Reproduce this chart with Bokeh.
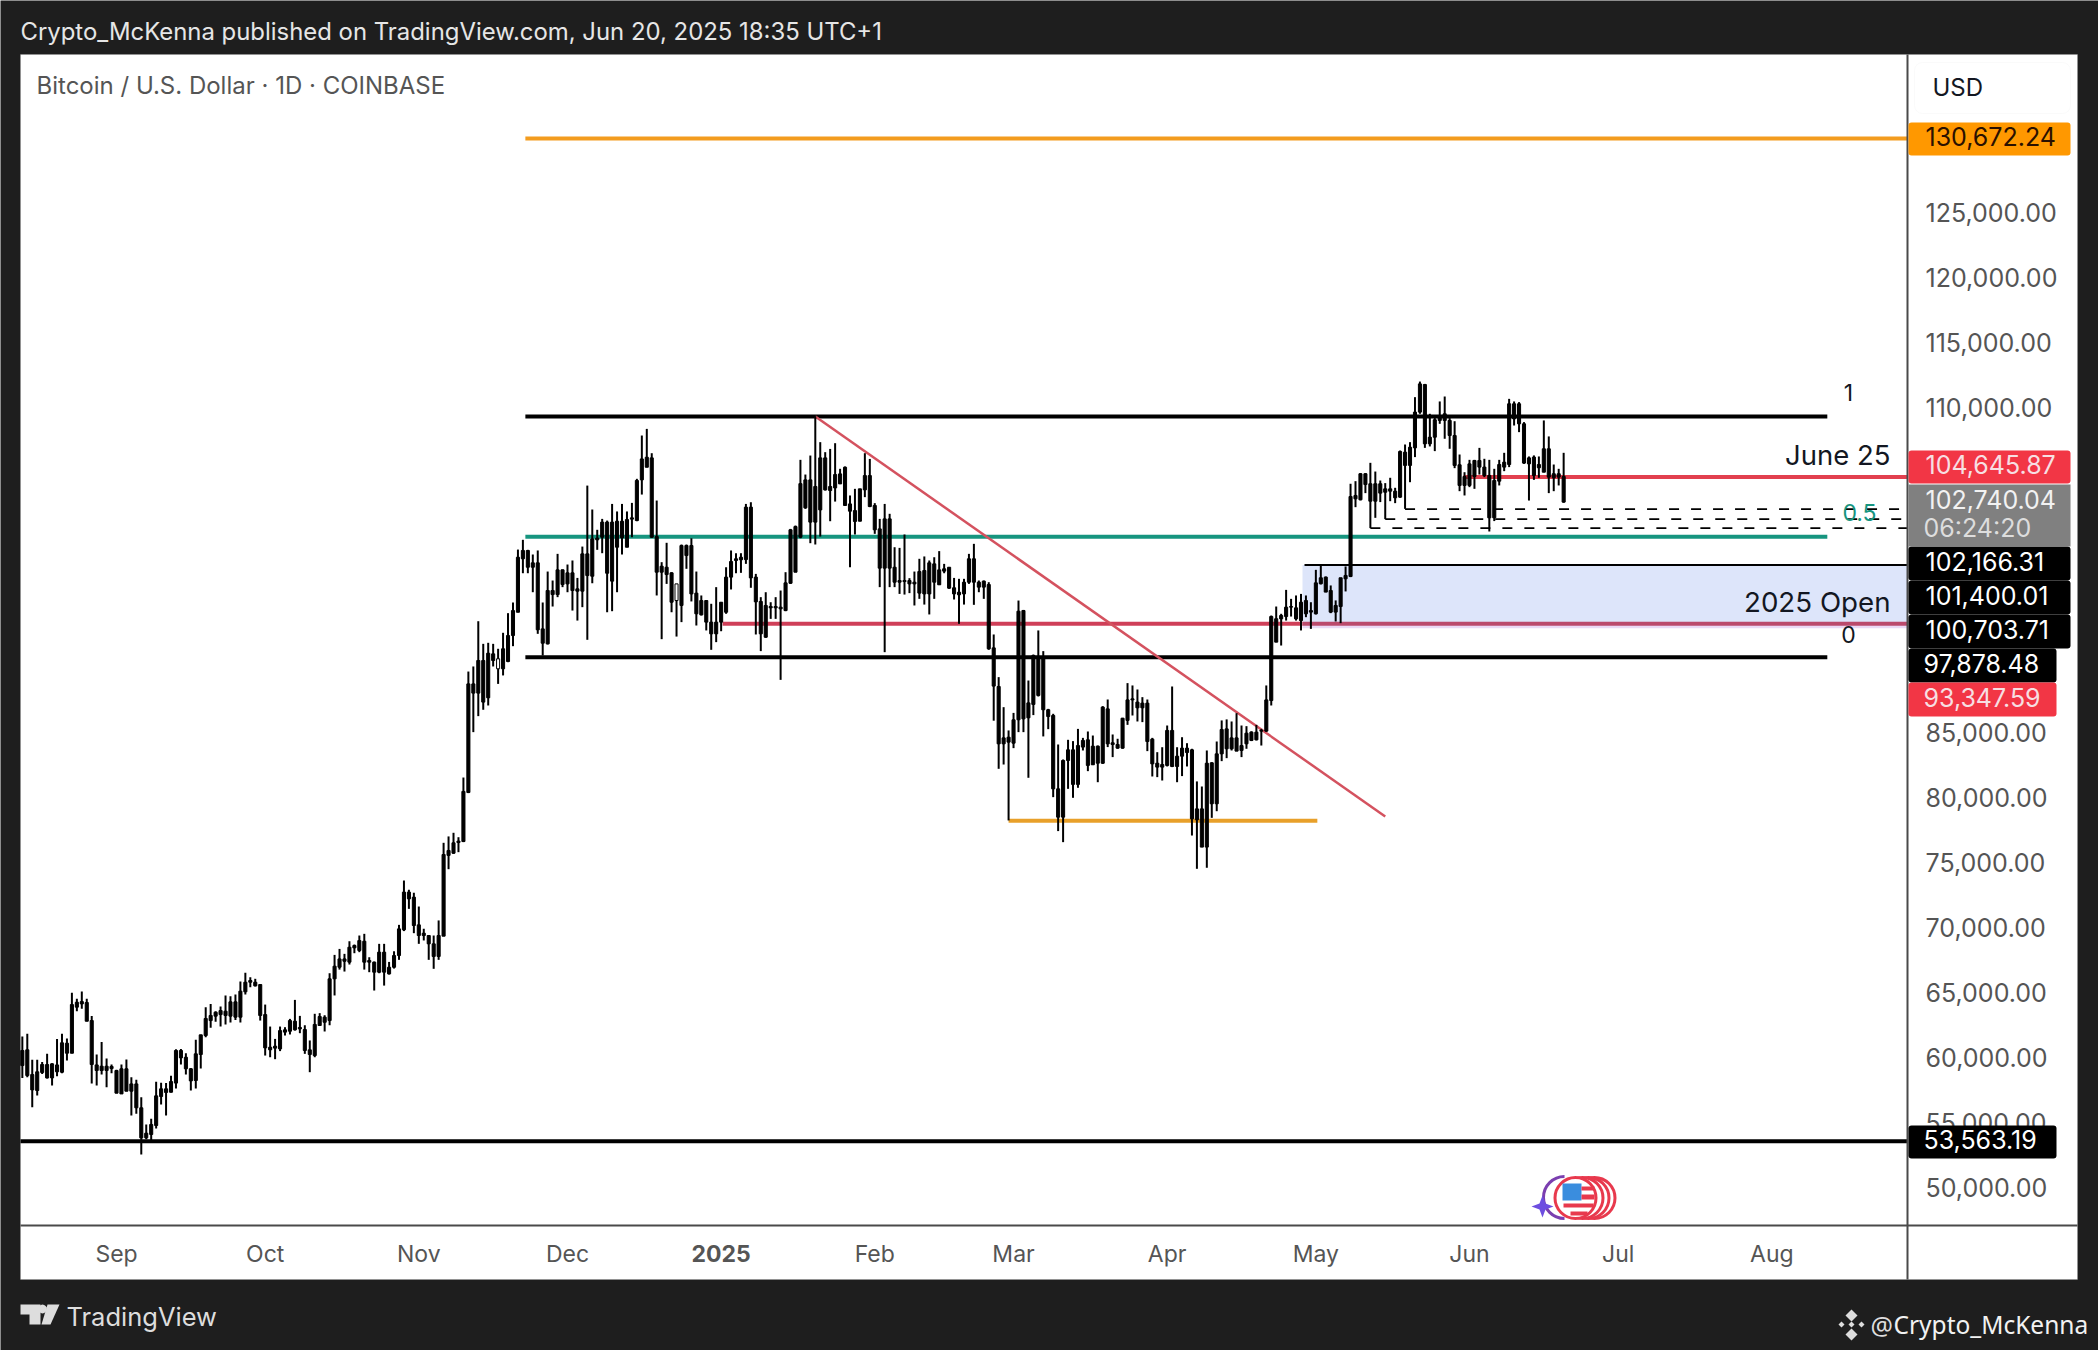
import math
from bokeh.plotting import figure
from bokeh.embed import file_html
from bokeh.resources import INLINE
from bokeh.models import (ColumnDataSource, Range1d, FixedTicker, NumeralTickFormatter,
                          BoxAnnotation, PolyAnnotation, Label)

# ---------- candle values, thousands of USD, one per day from 2024-08-13 ----------
wick_high = [
61.61,61.82,59.82,59.82,59.66,60.28,59.56,61.43,61.82,61.46,
64.97,64.51,65.07,64.51,63.2,60.23,61.2,59.92,59.46,59.05,
59.46,59.84,58.49,58.28,56.95,54.85,55.28,58.13,58.05,58.03,
58.59,60.64,60.66,60.33,59.2,61.36,61.74,63.87,64.12,63.56,
63.92,64.77,64.71,64.84,65.84,66.51,66.18,66.05,65.61,64.07,
62.38,61.43,62.38,62.33,62.97,64.43,63.2,62.48,61.31,63.36,
63.41,63.25,66.48,67.89,68.35,67.97,68.94,68.69,69.38,69.51,
67.71,67.38,68.74,68.74,67.35,68.17,70.2,73.61,72.9,72.67,
71.61,69.9,69.38,69.38,70.54,76.51,77.0,77.28,76.94,81.53,
89.68,90.07,93.55,91.81,91.89,91.81,91.43,92.66,94.17,94.99,
99.06,99.81,99.04,98.68,98.99,94.99,97.37,96.68,98.73,97.53,
97.91,98.22,96.88,99.29,103.98,102.14,100.58,101.42,101.29,102.57,
101.99,102.57,101.99,102.65,104.5,107.83,108.34,106.47,102.83,98.09,
99.58,97.32,96.42,99.45,99.45,99.93,97.37,95.53,95.14,94.89,
96.17,95.01,97.7,98.99,98.78,98.78,102.57,102.7,97.19,95.4,
95.78,95.01,95.4,95.91,97.32,100.65,100.91,105.96,104.83,106.29,
109.32,107.32,106.55,106.8,107.24,105.27,105.45,103.22,103.73,103.73,
106.47,106.03,102.63,101.42,102.57,101.81,99.24,99.19,100.22,96.86,
97.37,98.35,98.53,98.22,98.47,98.94,97.96,97.7,96.88,96.81,
96.81,98.73,99.5,96.68,96.68,96.55,92.53,89.25,86.94,85.15,
86.5,95.14,94.42,88.99,90.99,92.84,91.25,86.81,86.43,84.07,
82.92,84.43,84.33,85.27,84.58,85.07,84.76,83.99,87.02,87.53,
84.84,84.51,86.12,88.79,88.61,88.3,87.71,87.53,84.58,83.48,
83.86,85.53,88.53,83.86,84.63,84.17,83.74,81.23,80.84,83.61,
82.71,84.3,85.92,86.0,85.84,86.48,85.53,85.48,85.09,85.58,
85.27,88.61,93.99,94.68,94.12,95.96,95.27,95.53,95.65,95.53,
95.01,97.5,97.91,96.99,96.3,95.15,96.89,97.76,104.12,104.32,
104.94,104.94,105.73,105.06,104.37,104.17,104.58,103.81,106.68,107.14,
107.32,110.78,111.98,111.8,109.5,109.19,110.45,110.83,109.17,108.93,
106.37,105.01,105.96,105.96,106.88,106.04,105.96,105.27,105.96,106.5,
110.65,110.45,110.4,108.86,106.22,106.3,106.22,108.99,107.76,105.6,105.27,106.5]

body_top = [
60.54,60.59,58.69,58.90,59.46,59.46,59.51,59.43,61.13,61.10,
64.07,64.25,64.30,64.23,62.84,59.43,59.33,59.33,59.31,59.0,
59.13,59.13,57.97,57.97,56.13,54.18,54.85,57.05,57.59,57.59,
58.15,60.54,60.54,60.02,59.13,60.28,61.74,63.0,63.23,63.48,
63.61,63.56,64.28,64.28,65.1,65.79,65.92,65.79,65.61,63.3,
60.79,60.87,62.07,62.13,62.84,62.79,62.31,62.15,60.59,62.54,
63.15,63.1,66.05,67.02,67.58,67.58,68.48,68.61,68.99,68.94,
67.46,67.33,68.1,68.1,66.94,67.84,69.89,72.72,72.72,72.33,
70.2,69.56,69.38,68.74,69.38,75.61,75.92,76.51,76.64,80.46,
88.73,88.73,90.53,90.53,91.09,91.04,90.66,91.43,92.45,94.37,
98.47,98.99,98.99,98.04,98.04,92.96,95.91,95.91,97.5,97.5,
97.27,97.27,96.04,98.73,98.73,99.88,99.94,101.17,101.17,101.17,
101.24,101.24,101.37,101.5,104.37,106.03,106.16,106.11,100.06,97.78,
97.7,97.27,96.42,99.37,99.37,99.37,95.71,95.14,95.14,93.48,
93.48,95.01,96.94,98.14,98.35,98.47,102.32,102.32,96.94,95.07,
94.76,94.68,94.68,94.63,96.5,100.58,100.83,104.13,104.42,104.42,
103.91,106.11,106.11,103.91,104.83,104.88,105.39,102.57,102.06,103.73,
104.75,104.75,102.45,100.65,101.42,101.42,97.7,96.68,96.68,96.68,
96.55,97.37,97.45,98.04,97.96,97.5,97.58,97.7,96.12,95.78,
96.55,98.35,98.35,96.55,96.63,96.37,91.5,88.53,84.58,84.63,
85.97,94.32,94.37,87.27,90.91,90.84,90.66,86.74,86.3,80.66,
82.84,83.66,83.66,83.99,84.38,84.43,83.94,83.94,86.94,86.81,
84.2,84.07,86.09,87.5,87.58,87.33,87.25,87.25,84.48,82.63,
82.53,85.15,85.15,83.17,83.79,83.79,83.66,79.12,79.12,82.63,
82.66,83.35,85.22,85.27,84.58,84.58,83.99,84.94,85.02,85.02,
85.15,87.5,93.91,93.74,93.99,94.63,94.68,94.58,95.01,95.14,
94.37,96.5,96.89,96.94,95.91,94.76,96.89,97.07,103.14,103.22,
104.89,104.89,104.12,104.12,104.12,103.73,103.73,103.55,106.6,106.55,
106.93,109.63,111.8,111.75,107.7,109.04,109.37,109.5,108.99,107.83,
105.58,104.68,105.65,105.91,105.91,105.4,104.76,104.37,105.6,105.78,
110.27,110.27,110.27,108.73,106.11,106.17,105.6,106.81,106.81,104.89,104.89,104.68]

body_bottom = [
59.38,58.61,57.51,57.46,58.85,58.43,58.43,58.90,58.87,60.33,
60.33,63.87,64.12,62.79,59.46,59.0,59.0,59.0,59.15,57.26,
57.2,57.41,57.41,56.13,53.82,53.82,54.08,54.77,57.0,57.31,
57.33,58.03,59.97,59.13,58.2,58.23,60.23,61.69,62.84,63.18,
63.3,63.23,63.18,63.1,63.1,65.05,65.79,65.51,63.23,60.74,
60.59,60.72,60.66,61.95,62.02,62.13,62.2,60.54,60.23,60.15,
62.46,62.71,62.84,66.05,66.94,67.4,67.33,68.43,68.23,67.33,
67.33,66.56,66.56,66.56,66.43,66.94,67.84,69.82,72.2,70.15,
69.38,69.38,68.74,67.77,67.77,69.33,75.54,75.71,76.53,76.61,
80.38,88.02,88.02,87.33,87.66,90.53,89.89,89.89,90.45,92.45,
94.24,98.35,97.7,97.7,92.89,91.86,91.81,95.6,95.6,96.37,
96.42,95.91,95.86,95.86,97.06,97.01,99.81,100.01,97.24,96.63,
99.24,99.96,99.24,101.4,101.29,104.42,105.39,100.01,97.32,97.32,
97.14,95.01,95.14,94.76,98.6,95.65,94.12,94.04,93.48,92.58,
92.58,93.48,94.24,96.94,98.22,98.27,98.29,96.88,95.04,92.58,
92.32,94.58,94.58,94.5,94.37,96.47,97.32,100.01,102.27,101.17,
101.17,102.11,103.65,103.6,103.8,104.11,102.45,102.01,101.22,101.24,
103.65,102.37,100.58,97.63,97.63,97.63,96.55,96.55,96.6,96.42,
96.42,95.71,95.65,95.65,96.55,96.35,97.4,96.09,95.65,95.58,
95.65,96.55,96.55,96.17,96.17,91.43,88.56,84.12,84.12,84.25,
84.17,85.97,86.04,86.12,87.15,87.84,86.74,86.22,80.66,78.48,
78.48,82.84,81.0,81.0,83.87,82.46,82.51,82.63,82.63,84.12,
84.07,83.79,83.79,85.92,87.5,86.89,86.89,84.3,82.58,82.33,
82.33,82.46,82.38,82.38,83.17,83.45,78.35,78.28,76.18,76.18,
79.51,79.51,83.35,83.74,83.74,83.56,83.61,84.12,84.38,84.43,
85.1,85.1,87.45,91.94,93.73,93.91,94.63,93.73,93.6,94.12,
94.25,94.12,96.43,95.79,94.25,94.25,94.68,96.81,96.99,102.96,
102.89,104.06,102.78,102.78,103.4,103.47,103.55,103.04,103.09,105.53,
105.53,106.88,109.63,107.19,107.19,107.7,108.99,108.99,107.83,105.53,
103.99,103.99,103.99,104.68,105.4,104.76,101.5,101.5,104.32,105.4,
105.6,109.11,108.73,105.71,105.65,104.76,105.35,105.01,104.63,104.58,104.63,102.71]

wick_low = [
58.43,58.49,56.18,57.08,58.74,58.38,57.85,58.56,58.79,59.77,
60.33,63.56,63.74,62.79,58.0,57.85,58.69,57.72,58.79,57.26,
57.2,57.41,55.54,55.67,52.54,53.72,53.62,54.54,56.38,55.54,
57.31,57.62,59.46,58.69,57.46,57.62,59.15,61.56,62.28,62.74,
62.38,62.54,62.69,62.89,62.69,64.84,65.41,65.46,62.84,60.15,
60.02,59.87,60.49,61.69,61.77,62.07,61.87,60.28,58.87,60.02,
62.46,62.0,62.48,64.77,66.76,66.61,67.15,68.02,68.1,66.76,
66.56,65.15,66.48,65.53,66.38,66.84,67.51,69.72,71.43,69.56,
68.74,69.0,67.51,66.82,67.51,69.33,74.48,75.66,75.79,76.56,
80.33,85.02,86.25,86.74,87.07,90.07,88.73,89.38,90.4,91.63,
94.24,97.24,97.24,95.78,92.58,90.91,91.76,94.68,95.4,96.17,
95.78,94.37,93.6,94.63,92.12,96.47,99.04,98.78,94.24,94.32,
95.78,98.68,99.24,100.01,101.24,103.29,105.39,99.96,95.53,92.17,
96.42,94.24,92.37,93.48,97.58,95.07,93.22,93.99,92.84,91.35,
91.94,92.78,94.12,95.99,97.24,97.27,97.96,96.12,92.53,91.25,
92.27,93.73,93.73,89.04,94.32,96.42,97.32,99.93,102.19,99.55,
99.45,100.06,103.6,101.24,102.75,104.11,102.42,97.7,100.22,101.24,
103.09,102.32,100.27,96.17,91.17,96.17,96.17,95.65,95.6,95.71,
94.76,95.27,94.83,94.07,95.27,96.35,97.24,96.04,95.22,93.35,
94.83,96.42,94.81,95.78,95.27,91.35,85.9,82.2,82.53,78.23,
83.79,85.02,85.02,81.51,86.33,87.76,84.69,85.25,80.02,77.41,
76.56,80.66,79.97,80.74,83.61,82.02,82.51,81.17,82.58,83.87,
83.1,83.74,83.74,85.58,86.3,85.84,85.79,83.56,81.61,81.56,
81.3,82.38,82.33,81.17,81.64,82.38,77.07,74.51,76.18,74.59,
78.43,78.94,82.79,83.02,83.61,83.56,83.1,83.74,84.33,84.38,
83.99,85.04,87.07,91.94,91.68,93.6,93.91,93.6,92.84,93.86,
92.96,94.07,96.38,95.79,94.17,93.53,93.4,95.84,96.94,102.32,
102.84,103.4,100.71,101.5,102.71,101.4,102.78,102.63,103.04,102.19,
104.24,106.17,109.5,106.88,106.99,106.63,108.73,107.58,106.81,105.32,
103.55,103.22,103.86,103.73,104.83,104.63,100.45,101.25,103.99,105.09,
105.4,108.6,108.09,105.65,102.83,104.42,104.58,105.01,103.4,103.55,103.99,102.66]

hollow_candles = [97, 133]          # 1-based candle numbers drawn with white bodies
first_day = -19                     # days relative to 2024-09-01

# ---------- drawn levels ----------
level_top_price = 130672.24
fib_one = 109290
fib_half = 100040
fib_zero = 90780
open_2025 = 93347.59
june_25 = 104645.87
support_low = 53563.19
range_low = 78200
zone_top = 97878.48
zone_bottom = 93000
dashed_prices = [102166.31, 101400.01, 100703.71]
dashed_start_days = [260, 256, 253]
trend_days = [141, 256]
trend_prices = [109290, 78530]

# ---------- axes ----------
month_days = [0, 30, 61, 91, 122, 153, 181, 212, 242, 273, 303, 334]
month_names = ["Sep", "Oct", "Nov", "Dec", "", "Feb", "Mar", "Apr", "May", "Jun", "Jul", "Aug"]
price_ticks = [50000, 55000, 60000, 65000, 70000, 75000, 80000, 85000,
               110000, 115000, 120000, 125000]

# stacked price tags: text, top, bottom, right, fill, text colour
tag_texts = ["130,672.24", "104,645.87", "102,166.31", "101,400.01", "100,703.71",
             "97,878.48", "93,347.59", "53,563.19"]
tag_tops = [122, 450, 546, 580, 614, 648, 682, 1125]
tag_bottoms = [155, 483, 580, 614, 648, 682, 716, 1158]
tag_rights = [2070, 2070, 2070, 2070, 2070, 2056, 2056, 2056]
tag_fills = ["#ff9800", "#f23645", "#000000", "#000000", "#000000", "#000000", "#f23645", "#000000"]
tag_colors = ["#2a1000", "#f7dfe2", "#ffffff", "#ffffff", "#ffffff", "#ffffff", "#f7dfe2", "#ffffff"]

FONT = "Inter"
DARK = "#1e1e1e"
PX_PER_DAY = 4.956
USD_PER_PX = 76.9

def X(a):   # page pixel -> day
    return (a - 116) / PX_PER_DAY
def Y(a):   # page pixel -> price
    return support_low + (1140.7 - a) * USD_PER_PX

right_edge = X(1907)

p = figure(width=2098, height=1350, output_backend="svg", toolbar_location=None,
           x_range=Range1d(X(0), X(2098)), y_range=Range1d(Y(1350), Y(0)),
           y_axis_location="right", min_border=0,
           border_fill_color=DARK, background_fill_color=DARK, outline_line_color=None)
p.grid.visible = False

p.xaxis.ticker = FixedTicker(ticks=month_days)
p.xaxis.major_label_overrides = dict(zip(month_days, month_names))
p.yaxis.ticker = FixedTicker(ticks=price_ticks)
p.yaxis.formatter = NumeralTickFormatter(format="0,0.00")
p.yaxis[0].fixed_location = right_edge
p.xaxis[0].fixed_location = Y(1225)
p.yaxis[0].bounds = (Y(1279), Y(54))
p.xaxis[0].bounds = (X(20), X(2077))
for ax in (p.xaxis[0], p.yaxis[0]):
    ax.major_tick_line_color = None
    ax.minor_tick_line_color = None
    ax.axis_line_color = "#4a4a4a"
    ax.axis_line_width = 2
    ax.major_label_text_font = FONT
    ax.major_label_text_color = "#555555"
p.xaxis[0].major_label_text_font_size = "23px"
p.yaxis[0].major_label_text_font_size = "25px"
p.xaxis[0].major_label_standoff = 8
p.yaxis[0].major_label_standoff = 12

def box(l, t, r, b, fill, line=None, radius=0, level="annotation", width=1):
    p.add_layout(BoxAnnotation(left=l, right=r, top=t, bottom=b,
                               left_units="canvas", right_units="canvas",
                               top_units="canvas", bottom_units="canvas",
                               fill_color=fill, fill_alpha=1, line_color=line, line_width=width,
                               border_radius=radius, level=level))

# white chart panel including the axis strips
box(20, 54, 2077, 1279, "white", "#9a9a9a", level="underlay")

# zone
p.quad(left=[X(1302)], right=[right_edge], top=[zone_top], bottom=[open_2025],
       fill_color="#dde5fa", line_color=None)
p.quad(left=[X(1302)], right=[right_edge], top=[open_2025], bottom=[zone_bottom],
       fill_color="#ead9f5", line_color=None)

def hline(d0, d1, price, color, width, dash="solid"):
    p.line([d0, d1], [price, price], line_color=color, line_width=width, line_dash=dash)

hline(82.5, right_edge, level_top_price, "#f39c1f", 4)
hline(82.5, 345.2, fib_one, "#000000", 4)
hline(82.5, 345.2, fib_zero, "#000000", 4)
hline(82.5, 345.2, fib_half, "#16957f", 4)
hline(122.3, X(1302), open_2025, "#cf3f58", 4)
hline(X(1302), right_edge, open_2025, "#bb4a6c", 4)
hline(271.8, right_edge, june_25, "#e2404f", 4)
hline(180, 242.3, range_low, "#e8a02a", 4)
hline(X(1304), right_edge, zone_top, "#000000", 2)
hline(X(20), right_edge, support_low, "#000000", 4)
p.line(trend_days, trend_prices, line_color="#d4525f", line_width=2.5)
for start, price in zip(dashed_start_days, dashed_prices):
    hline(start, right_edge, price, "#000000", 1.8, "10 12")

# candles
days = [first_day + i for i in range(len(wick_high))]
fills = ["white" if i + 1 in hollow_candles else "black" for i in range(len(days))]
src = ColumnDataSource(dict(x=days,
                            h=[v * 1000 for v in wick_high],
                            t=[v * 1000 for v in body_top],
                            b=[v * 1000 for v in body_bottom],
                            l=[v * 1000 for v in wick_low],
                            f=fills))
p.segment(x0="x", x1="x", y0="l", y1="h", source=src, line_color="black", line_width=2)
p.vbar(x="x", width=0.62, top="t", bottom="b", source=src, fill_color="f", line_color="black", line_width=1)

def label(text, ax, ay, color="#000000", size=22, align="left", style="normal", font=FONT):
    p.add_layout(Label(x=ax, y=ay, x_units="canvas", y_units="canvas", text=text, text_color=color,
                       text_font=font, text_font_size=f"{size}px", text_align=align,
                       text_baseline="middle", text_font_style=style))

def poly(pts, color):
    p.add_layout(PolyAnnotation(xs=[a for a, _ in pts], ys=[b for _, b in pts],
                                xs_units="canvas", ys_units="canvas",
                                fill_color=color, fill_alpha=1, line_color=None))

# price tags
box(1914, 62, 2070, 113, "white", "#efefef", 8)
label("USD", 1932, 87, "#131722", 24)
for txt, t, b, r, fill, col in zip(tag_texts, tag_tops, tag_bottoms, tag_rights, tag_fills, tag_colors):
    box(1908, t, r, b, fill, radius=3)
    label(txt, 1925 if r == 2070 else 1923, (t + b) / 2 - 2.5, col, 25)
box(1908, 484, 2070, 546, "#808080")
label("102,740.04", 1925, 499, "#f2f2f2", 25)
label("06:24:20", 1923, 527, "#dddddd", 25)

# chart texts
label("June 25", 1890, 454, "#131722", 27.5, "right")
label("2025 Open", 1890, 601, "#131722", 27.7, "right")
label("1", 1848, 392, "#131722", 23, "center")
label("0", 1848, 634, "#131722", 23, "center")
label("0.5", 1859, 512, "#16957f", 23, "center")
label("2025", 116 + 122 * PX_PER_DAY, 1253, "#555555", 23, "center", "bold")
label("Bitcoin / U.S. Dollar · 1D · COINBASE", 36, 85, "#555555", 24)
label("Crypto_McKenna published on TradingView.com, Jun 20, 2025 18:35 UTC+1", 20, 31, "#e6e6e6", 23.9)
label("TradingView", 66, 1316, "#dddddd", 25.5)
label("@", 1870, 1324, "#dddddd", 25, font="Noto Sans")
label("Crypto_McKenna", 1893, 1324, "#f2f2f2", 24.5, font="Noto Sans")

# TradingView logo
poly([(20, 1304), (40, 1304), (40, 1324), (29, 1324), (29, 1314), (20, 1314)], "#dddddd")
poly([(42 + 4.4 * math.cos(a / 8 * math.pi), 1308.5 + 4.4 * math.sin(a / 8 * math.pi)) for a in range(16)], "#dddddd")
poly([(47, 1304), (59, 1304), (50, 1324), (41, 1324)], "#dddddd")

# Binance mark
def diamond(cx, cy, r, color="#dddddd"):
    poly([(cx, cy - r), (cx + r, cy), (cx, cy + r), (cx - r, cy)], color)
diamond(1851, 1315, 6)
diamond(1841, 1324, 3)
diamond(1861, 1324, 3)
diamond(1851, 1324, 3)
diamond(1851, 1334, 6)

# flag badge
p.arc(x=[X(1564)], y=[Y(1197)], radius=21, radius_units="screen", start_angle=math.pi / 2,
      end_angle=3 * math.pi / 2, line_color="#7b3fb0", line_width=3)
for cx in [1594, 1588, 1582, 1575]:
    p.scatter(x=[X(cx)], y=[Y(1197.5)], size=41, marker="circle", fill_color="white",
              line_color="#e8394d", line_width=3)
p.quad(left=[X(1562)], right=[X(1581)], top=[Y(1183)], bottom=[Y(1200)], fill_color="#3a8dde", line_color=None)
p.quad(left=[X(1581), X(1581), X(1563), X(1570)], right=[X(1594), X(1594), X(1593), X(1587)],
       top=[Y(1186), Y(1194), Y(1203), Y(1211)], bottom=[Y(1190), Y(1199), Y(1207), Y(1215)],
       fill_color="#e8394d", line_color=None)
poly([(1542, 1195), (1545, 1203), (1553, 1206), (1545, 1209), (1542, 1217), (1539, 1209), (1531, 1206), (1539, 1203)], "#6d4ee0")

open("out.html", "w").write(file_html(p, INLINE))
